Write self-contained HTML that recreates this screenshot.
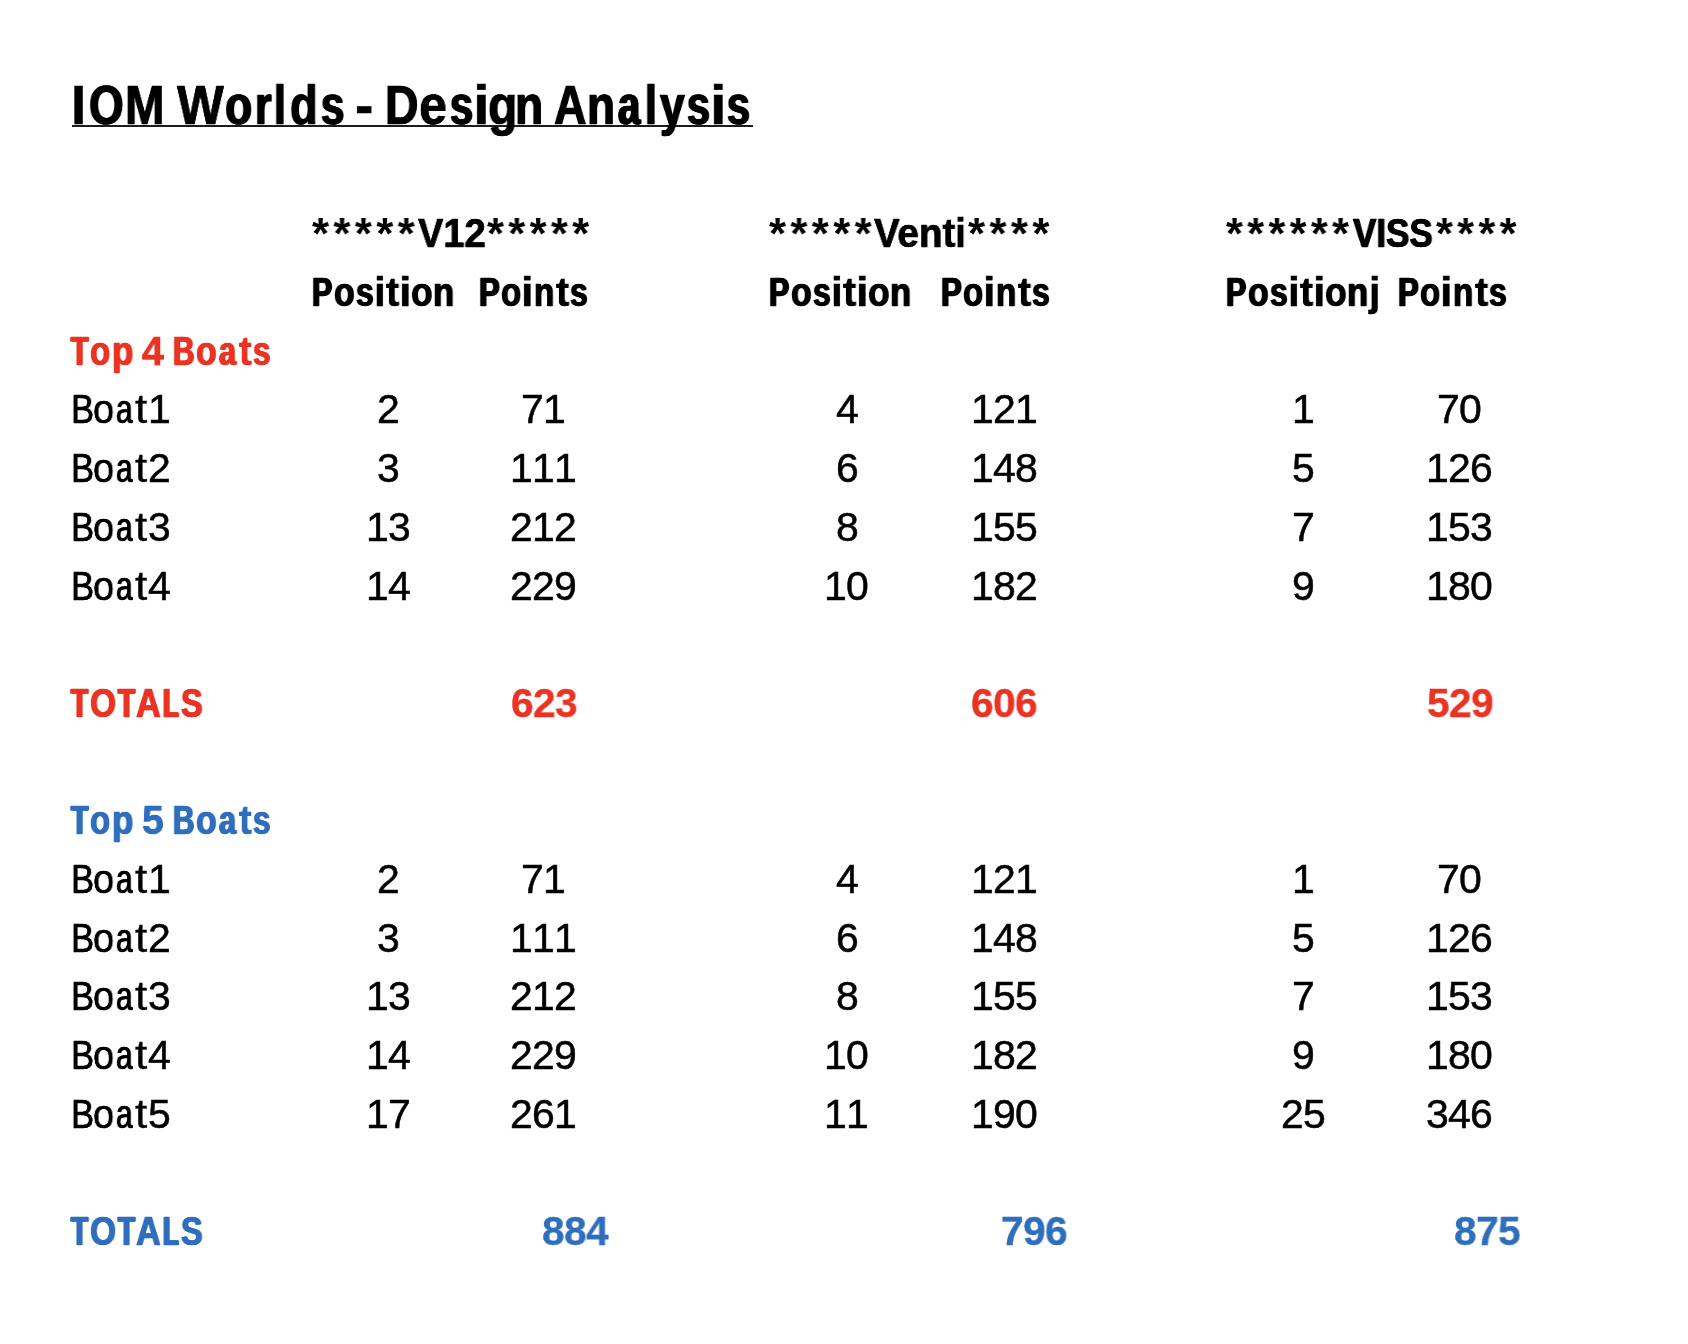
<!DOCTYPE html>
<html><head><meta charset="utf-8"><title>IOM Worlds - Design Analysis</title>
<style>
html,body{margin:0;padding:0;background:#fff}
body{width:1688px;height:1344px;position:relative;overflow:hidden;font-family:'Liberation Sans',sans-serif;color:#000}
.t{position:absolute;white-space:pre;line-height:1;transform-origin:0 0;will-change:transform;-webkit-text-stroke-color:currentColor}
.r{font-weight:400}.b{font-weight:700}.nk{font-kerning:none}
.red{color:#EA3323}.blue{color:#2F6EBD}
.ul{position:absolute;left:71.8px;top:125.2px;width:680.7px;height:1.9px;background:#1c1c1c;will-change:transform}
</style></head>
<body>
<div class="ul"></div>
<div class="t b" style="left:71.18px;top:78.00px;font-size:55.00px;transform:scaleX(0.9912);-webkit-text-stroke-width:0.50px">I</div>
<div class="t b" style="left:88.57px;top:78.00px;font-size:55.00px;transform:scaleX(0.8086);-webkit-text-stroke-width:0.50px;text-shadow:0.89px 0 0 currentColor,-0.89px 0 0 currentColor">O</div>
<div class="t b" style="left:125.17px;top:78.00px;font-size:55.00px;transform:scaleX(0.8602);-webkit-text-stroke-width:0.50px;text-shadow:0.59px 0 0 currentColor,-0.59px 0 0 currentColor">M</div>
<div class="t b" style="left:176.68px;top:78.00px;font-size:55.00px;transform:scaleX(0.9012);-webkit-text-stroke-width:0.50px;text-shadow:0.37px 0 0 currentColor,-0.37px 0 0 currentColor">W</div>
<div class="t b" style="left:225.09px;top:78.00px;font-size:55.00px;transform:scaleX(0.8057);-webkit-text-stroke-width:0.50px;text-shadow:0.91px 0 0 currentColor,-0.91px 0 0 currentColor">o</div>
<div class="t b" style="left:255.49px;top:78.00px;font-size:55.00px;transform:scaleX(0.7781);-webkit-text-stroke-width:0.50px;text-shadow:1.10px 0 0 currentColor,-1.10px 0 0 currentColor">r</div>
<div class="t b" style="left:272.88px;top:78.00px;font-size:55.00px;transform:scaleX(0.9000);-webkit-text-stroke-width:0.50px">l</div>
<div class="t b" style="left:290.29px;top:78.00px;font-size:55.00px;transform:scaleX(0.8212);-webkit-text-stroke-width:0.50px;text-shadow:0.82px 0 0 currentColor,-0.82px 0 0 currentColor">d</div>
<div class="t b" style="left:320.56px;top:78.00px;font-size:55.00px;transform:scaleX(0.7632);-webkit-text-stroke-width:0.50px;text-shadow:1.20px 0 0 currentColor,-1.20px 0 0 currentColor">s</div>
<div class="t b" style="left:354.79px;top:78.00px;font-size:55.00px;transform:scaleX(0.9930);-webkit-text-stroke-width:0.50px">-</div>
<div class="t b" style="left:384.71px;top:78.00px;font-size:55.00px;transform:scaleX(0.8417);-webkit-text-stroke-width:0.50px;text-shadow:0.69px 0 0 currentColor,-0.69px 0 0 currentColor">D</div>
<div class="t b" style="left:419.41px;top:78.00px;font-size:55.00px;transform:scaleX(0.9147);-webkit-text-stroke-width:0.50px;text-shadow:0.30px 0 0 currentColor,-0.30px 0 0 currentColor">e</div>
<div class="t b" style="left:449.72px;top:78.00px;font-size:55.00px;transform:scaleX(0.7524);-webkit-text-stroke-width:0.50px;text-shadow:1.28px 0 0 currentColor,-1.28px 0 0 currentColor">s</div>
<div class="t b" style="left:473.00px;top:78.00px;font-size:55.00px;transform:scaleX(1.0909);-webkit-text-stroke-width:0.50px">i</div>
<div class="t b" style="left:487.55px;top:78.00px;font-size:55.00px;transform:scaleX(0.8766);-webkit-text-stroke-width:0.50px;text-shadow:0.50px 0 0 currentColor,-0.50px 0 0 currentColor">g</div>
<div class="t b" style="left:514.74px;top:78.00px;font-size:55.00px;transform:scaleX(0.8373);-webkit-text-stroke-width:0.50px;text-shadow:0.72px 0 0 currentColor,-0.72px 0 0 currentColor">n</div>
<div class="t b" style="left:553.50px;top:78.00px;font-size:55.00px;transform:scaleX(0.8159);-webkit-text-stroke-width:0.50px;text-shadow:0.85px 0 0 currentColor,-0.85px 0 0 currentColor">A</div>
<div class="t b" style="left:586.88px;top:78.00px;font-size:55.00px;transform:scaleX(0.8320);-webkit-text-stroke-width:0.50px;text-shadow:0.75px 0 0 currentColor,-0.75px 0 0 currentColor">n</div>
<div class="t b" style="left:618.08px;top:78.00px;font-size:55.00px;transform:scaleX(0.7256);-webkit-text-stroke-width:0.50px;text-shadow:1.48px 0 0 currentColor,-1.48px 0 0 currentColor">a</div>
<div class="t b" style="left:643.78px;top:78.00px;font-size:55.00px;transform:scaleX(0.9000);-webkit-text-stroke-width:0.50px">l</div>
<div class="t b" style="left:660.22px;top:78.00px;font-size:55.00px;transform:scaleX(0.8037);-webkit-text-stroke-width:0.50px;text-shadow:0.93px 0 0 currentColor,-0.93px 0 0 currentColor">y</div>
<div class="t b" style="left:686.85px;top:78.00px;font-size:55.00px;transform:scaleX(0.7470);-webkit-text-stroke-width:0.50px;text-shadow:1.32px 0 0 currentColor,-1.32px 0 0 currentColor">s</div>
<div class="t b" style="left:710.14px;top:78.00px;font-size:55.00px;transform:scaleX(1.0784);-webkit-text-stroke-width:0.50px">i</div>
<div class="t b" style="left:726.75px;top:78.00px;font-size:55.00px;transform:scaleX(0.7470);-webkit-text-stroke-width:0.50px;text-shadow:1.32px 0 0 currentColor,-1.32px 0 0 currentColor">s</div>
<div class="t b" style="left:311.78px;top:211.68px;font-size:44.32px;transform:scaleX(0.9852);letter-spacing:4.52px">*****</div>
<div class="t b" style="left:417.61px;top:213.00px;font-size:41.00px;transform:scaleX(0.9279);-webkit-text-stroke-width:0.40px;text-shadow:0.33px 0 0 currentColor,-0.33px 0 0 currentColor">V12</div>
<div class="t b" style="left:486.98px;top:211.68px;font-size:44.32px;transform:scaleX(0.9794);letter-spacing:4.52px">*****</div>
<div class="t b" style="left:768.78px;top:211.68px;font-size:44.32px;transform:scaleX(0.9842);letter-spacing:4.52px">*****</div>
<div class="t b" style="left:874.47px;top:213.00px;font-size:41.00px;transform:scaleX(0.9384);-webkit-text-stroke-width:0.40px;text-shadow:0.29px 0 0 currentColor,-0.29px 0 0 currentColor">Venti</div>
<div class="t b" style="left:967.78px;top:211.68px;font-size:44.32px;transform:scaleX(0.9864);letter-spacing:4.52px">****</div>
<div class="t b" style="left:1226.48px;top:211.68px;font-size:44.32px;transform:scaleX(0.9757);letter-spacing:4.52px">******</div>
<div class="t b" style="left:1352.74px;top:213.00px;font-size:41.00px;transform:scaleX(0.8530);-webkit-text-stroke-width:0.40px;text-shadow:0.64px 0 0 currentColor,-0.64px 0 0 currentColor">VISS</div>
<div class="t b" style="left:1436.28px;top:211.68px;font-size:44.32px;transform:scaleX(0.9754);letter-spacing:4.52px">****</div>
<div class="t b nk" style="left:311.60px;top:272.00px;font-size:41.00px;transform:scaleX(0.7371);-webkit-text-stroke-width:0.40px;text-shadow:1.24px 0 0 currentColor,-1.24px 0 0 currentColor">P</div>
<div class="t b nk" style="left:333.56px;top:272.00px;font-size:41.00px;transform:scaleX(0.8230);-webkit-text-stroke-width:0.40px;text-shadow:0.78px 0 0 currentColor,-0.78px 0 0 currentColor">o</div>
<div class="t b nk" style="left:355.82px;top:272.00px;font-size:41.00px;transform:scaleX(0.7785);-webkit-text-stroke-width:0.40px;text-shadow:1.00px 0 0 currentColor,-1.00px 0 0 currentColor">s</div>
<div class="t b nk" style="left:374.22px;top:272.00px;font-size:41.00px;transform:scaleX(1.0429);-webkit-text-stroke-width:0.40px">i</div>
<div class="t b nk" style="left:385.61px;top:272.00px;font-size:41.00px;transform:scaleX(0.9594);-webkit-text-stroke-width:0.40px;text-shadow:0.22px 0 0 currentColor,-0.22px 0 0 currentColor">t</div>
<div class="t b nk" style="left:398.69px;top:272.00px;font-size:41.00px;transform:scaleX(1.0934);-webkit-text-stroke-width:0.40px">i</div>
<div class="t b nk" style="left:410.98px;top:272.00px;font-size:41.00px;transform:scaleX(0.8610);-webkit-text-stroke-width:0.40px;text-shadow:0.60px 0 0 currentColor,-0.60px 0 0 currentColor">o</div>
<div class="t b nk" style="left:433.29px;top:272.00px;font-size:41.00px;transform:scaleX(0.8459);-webkit-text-stroke-width:0.40px;text-shadow:0.67px 0 0 currentColor,-0.67px 0 0 currentColor">n</div>
<div class="t b nk" style="left:768.60px;top:272.00px;font-size:41.00px;transform:scaleX(0.7371);-webkit-text-stroke-width:0.40px;text-shadow:1.24px 0 0 currentColor,-1.24px 0 0 currentColor">P</div>
<div class="t b nk" style="left:790.56px;top:272.00px;font-size:41.00px;transform:scaleX(0.8230);-webkit-text-stroke-width:0.40px;text-shadow:0.78px 0 0 currentColor,-0.78px 0 0 currentColor">o</div>
<div class="t b nk" style="left:812.82px;top:272.00px;font-size:41.00px;transform:scaleX(0.7785);-webkit-text-stroke-width:0.40px;text-shadow:1.00px 0 0 currentColor,-1.00px 0 0 currentColor">s</div>
<div class="t b nk" style="left:831.22px;top:272.00px;font-size:41.00px;transform:scaleX(1.0429);-webkit-text-stroke-width:0.40px">i</div>
<div class="t b nk" style="left:842.61px;top:272.00px;font-size:41.00px;transform:scaleX(0.9594);-webkit-text-stroke-width:0.40px;text-shadow:0.22px 0 0 currentColor,-0.22px 0 0 currentColor">t</div>
<div class="t b nk" style="left:855.69px;top:272.00px;font-size:41.00px;transform:scaleX(1.0934);-webkit-text-stroke-width:0.40px">i</div>
<div class="t b nk" style="left:867.98px;top:272.00px;font-size:41.00px;transform:scaleX(0.8610);-webkit-text-stroke-width:0.40px;text-shadow:0.60px 0 0 currentColor,-0.60px 0 0 currentColor">o</div>
<div class="t b nk" style="left:890.29px;top:272.00px;font-size:41.00px;transform:scaleX(0.8459);-webkit-text-stroke-width:0.40px;text-shadow:0.67px 0 0 currentColor,-0.67px 0 0 currentColor">n</div>
<div class="t b nk" style="left:1225.80px;top:272.00px;font-size:41.00px;transform:scaleX(0.7371);-webkit-text-stroke-width:0.40px;text-shadow:1.24px 0 0 currentColor,-1.24px 0 0 currentColor">P</div>
<div class="t b nk" style="left:1247.76px;top:272.00px;font-size:41.00px;transform:scaleX(0.8230);-webkit-text-stroke-width:0.40px;text-shadow:0.78px 0 0 currentColor,-0.78px 0 0 currentColor">o</div>
<div class="t b nk" style="left:1270.02px;top:272.00px;font-size:41.00px;transform:scaleX(0.7785);-webkit-text-stroke-width:0.40px;text-shadow:1.00px 0 0 currentColor,-1.00px 0 0 currentColor">s</div>
<div class="t b nk" style="left:1288.42px;top:272.00px;font-size:41.00px;transform:scaleX(1.0429);-webkit-text-stroke-width:0.40px">i</div>
<div class="t b nk" style="left:1299.81px;top:272.00px;font-size:41.00px;transform:scaleX(0.9594);-webkit-text-stroke-width:0.40px;text-shadow:0.22px 0 0 currentColor,-0.22px 0 0 currentColor">t</div>
<div class="t b nk" style="left:1312.89px;top:272.00px;font-size:41.00px;transform:scaleX(1.0934);-webkit-text-stroke-width:0.40px">i</div>
<div class="t b nk" style="left:1325.18px;top:272.00px;font-size:41.00px;transform:scaleX(0.8610);-webkit-text-stroke-width:0.40px;text-shadow:0.60px 0 0 currentColor,-0.60px 0 0 currentColor">o</div>
<div class="t b nk" style="left:1347.49px;top:272.00px;font-size:41.00px;transform:scaleX(0.8459);-webkit-text-stroke-width:0.40px;text-shadow:0.67px 0 0 currentColor,-0.67px 0 0 currentColor">n</div>
<div class="t b nk" style="left:1369.13px;top:272.00px;font-size:41.00px;transform:scaleX(1.0074);-webkit-text-stroke-width:0.40px">j</div>
<div class="t b nk" style="left:478.70px;top:272.00px;font-size:41.00px;transform:scaleX(0.7545);-webkit-text-stroke-width:0.40px;text-shadow:1.13px 0 0 currentColor,-1.13px 0 0 currentColor">P</div>
<div class="t b nk" style="left:500.95px;top:272.00px;font-size:41.00px;transform:scaleX(0.8041);-webkit-text-stroke-width:0.40px;text-shadow:0.87px 0 0 currentColor,-0.87px 0 0 currentColor">o</div>
<div class="t b nk" style="left:521.19px;top:272.00px;font-size:41.00px;transform:scaleX(1.0934);-webkit-text-stroke-width:0.40px">i</div>
<div class="t b nk" style="left:534.09px;top:272.00px;font-size:41.00px;transform:scaleX(0.8100);-webkit-text-stroke-width:0.40px;text-shadow:0.84px 0 0 currentColor,-0.84px 0 0 currentColor">n</div>
<div class="t b nk" style="left:556.11px;top:272.00px;font-size:41.00px;transform:scaleX(0.9594);-webkit-text-stroke-width:0.40px;text-shadow:0.22px 0 0 currentColor,-0.22px 0 0 currentColor">t</div>
<div class="t b nk" style="left:570.12px;top:272.00px;font-size:41.00px;transform:scaleX(0.7785);-webkit-text-stroke-width:0.40px;text-shadow:1.00px 0 0 currentColor,-1.00px 0 0 currentColor">s</div>
<div class="t b nk" style="left:940.50px;top:272.00px;font-size:41.00px;transform:scaleX(0.7545);-webkit-text-stroke-width:0.40px;text-shadow:1.13px 0 0 currentColor,-1.13px 0 0 currentColor">P</div>
<div class="t b nk" style="left:962.75px;top:272.00px;font-size:41.00px;transform:scaleX(0.8041);-webkit-text-stroke-width:0.40px;text-shadow:0.87px 0 0 currentColor,-0.87px 0 0 currentColor">o</div>
<div class="t b nk" style="left:982.99px;top:272.00px;font-size:41.00px;transform:scaleX(1.0934);-webkit-text-stroke-width:0.40px">i</div>
<div class="t b nk" style="left:995.89px;top:272.00px;font-size:41.00px;transform:scaleX(0.8100);-webkit-text-stroke-width:0.40px;text-shadow:0.84px 0 0 currentColor,-0.84px 0 0 currentColor">n</div>
<div class="t b nk" style="left:1017.91px;top:272.00px;font-size:41.00px;transform:scaleX(0.9594);-webkit-text-stroke-width:0.40px;text-shadow:0.21px 0 0 currentColor,-0.21px 0 0 currentColor">t</div>
<div class="t b nk" style="left:1031.92px;top:272.00px;font-size:41.00px;transform:scaleX(0.7785);-webkit-text-stroke-width:0.40px;text-shadow:1.00px 0 0 currentColor,-1.00px 0 0 currentColor">s</div>
<div class="t b nk" style="left:1397.60px;top:272.00px;font-size:41.00px;transform:scaleX(0.7545);-webkit-text-stroke-width:0.40px;text-shadow:1.13px 0 0 currentColor,-1.13px 0 0 currentColor">P</div>
<div class="t b nk" style="left:1419.85px;top:272.00px;font-size:41.00px;transform:scaleX(0.8041);-webkit-text-stroke-width:0.40px;text-shadow:0.87px 0 0 currentColor,-0.87px 0 0 currentColor">o</div>
<div class="t b nk" style="left:1440.09px;top:272.00px;font-size:41.00px;transform:scaleX(1.0934);-webkit-text-stroke-width:0.40px">i</div>
<div class="t b nk" style="left:1452.99px;top:272.00px;font-size:41.00px;transform:scaleX(0.8100);-webkit-text-stroke-width:0.40px;text-shadow:0.84px 0 0 currentColor,-0.84px 0 0 currentColor">n</div>
<div class="t b nk" style="left:1475.01px;top:272.00px;font-size:41.00px;transform:scaleX(0.9594);-webkit-text-stroke-width:0.40px;text-shadow:0.22px 0 0 currentColor,-0.22px 0 0 currentColor">t</div>
<div class="t b nk" style="left:1489.02px;top:272.00px;font-size:41.00px;transform:scaleX(0.7785);-webkit-text-stroke-width:0.40px;text-shadow:1.00px 0 0 currentColor,-1.00px 0 0 currentColor">s</div>
<div class="t b red nk" style="left:70.94px;top:331.00px;font-size:41.00px;transform:scaleX(0.6847);-webkit-text-stroke-width:0.40px;text-shadow:1.57px 0 0 currentColor,-1.57px 0 0 currentColor">T</div>
<div class="t b red nk" style="left:90.05px;top:331.00px;font-size:41.00px;transform:scaleX(0.8041);-webkit-text-stroke-width:0.40px;text-shadow:0.87px 0 0 currentColor,-0.87px 0 0 currentColor">o</div>
<div class="t b red nk" style="left:111.65px;top:331.00px;font-size:41.00px;transform:scaleX(0.8531);-webkit-text-stroke-width:0.40px;text-shadow:0.64px 0 0 currentColor,-0.64px 0 0 currentColor">p</div>
<div class="t b red nk" style="left:172.78px;top:331.00px;font-size:41.00px;transform:scaleX(0.7235);-webkit-text-stroke-width:0.40px;text-shadow:1.32px 0 0 currentColor,-1.32px 0 0 currentColor">B</div>
<div class="t b red nk" style="left:195.86px;top:331.00px;font-size:41.00px;transform:scaleX(0.8230);-webkit-text-stroke-width:0.40px;text-shadow:0.78px 0 0 currentColor,-0.78px 0 0 currentColor">o</div>
<div class="t b red nk" style="left:218.54px;top:331.00px;font-size:41.00px;transform:scaleX(0.7407);-webkit-text-stroke-width:0.40px;text-shadow:1.22px 0 0 currentColor,-1.22px 0 0 currentColor">a</div>
<div class="t b red nk" style="left:239.21px;top:331.00px;font-size:41.00px;transform:scaleX(0.9299);-webkit-text-stroke-width:0.40px;text-shadow:0.32px 0 0 currentColor,-0.32px 0 0 currentColor">t</div>
<div class="t b red nk" style="left:253.09px;top:331.00px;font-size:41.00px;transform:scaleX(0.7639);-webkit-text-stroke-width:0.40px;text-shadow:1.08px 0 0 currentColor,-1.08px 0 0 currentColor">s</div>
<div class="t b red nk" style="left:141.62px;top:331.00px;font-size:41.00px;transform:scaleX(0.9562);-webkit-text-stroke-width:0.40px;text-shadow:0.23px 0 0 currentColor,-0.23px 0 0 currentColor">4</div>
<div class="t b red nk" style="left:70.96px;top:683.00px;font-size:41.00px;transform:scaleX(0.6793);-webkit-text-stroke-width:0.40px;text-shadow:1.61px 0 0 currentColor,-1.61px 0 0 currentColor">T</div>
<div class="t b red nk" style="left:90.19px;top:683.00px;font-size:41.00px;transform:scaleX(0.8156);-webkit-text-stroke-width:0.40px;text-shadow:0.81px 0 0 currentColor,-0.81px 0 0 currentColor">O</div>
<div class="t b red nk" style="left:118.06px;top:683.00px;font-size:41.00px;transform:scaleX(0.6793);-webkit-text-stroke-width:0.40px;text-shadow:1.61px 0 0 currentColor,-1.61px 0 0 currentColor">T</div>
<div class="t b red nk" style="left:135.61px;top:683.00px;font-size:41.00px;transform:scaleX(0.8358);-webkit-text-stroke-width:0.40px;text-shadow:0.72px 0 0 currentColor,-0.72px 0 0 currentColor">A</div>
<div class="t b red nk" style="left:162.83px;top:683.00px;font-size:41.00px;transform:scaleX(0.6258);-webkit-text-stroke-width:0.40px;text-shadow:2.02px 0 0 currentColor,-2.02px 0 0 currentColor">L</div>
<div class="t b red nk" style="left:180.84px;top:683.00px;font-size:41.00px;transform:scaleX(0.7876);-webkit-text-stroke-width:0.40px;text-shadow:0.95px 0 0 currentColor,-0.95px 0 0 currentColor">S</div>
<div class="t b blue nk" style="left:70.94px;top:800.00px;font-size:41.00px;transform:scaleX(0.6847);-webkit-text-stroke-width:0.40px;text-shadow:1.57px 0 0 currentColor,-1.57px 0 0 currentColor">T</div>
<div class="t b blue nk" style="left:90.05px;top:800.00px;font-size:41.00px;transform:scaleX(0.8041);-webkit-text-stroke-width:0.40px;text-shadow:0.87px 0 0 currentColor,-0.87px 0 0 currentColor">o</div>
<div class="t b blue nk" style="left:111.65px;top:800.00px;font-size:41.00px;transform:scaleX(0.8531);-webkit-text-stroke-width:0.40px;text-shadow:0.64px 0 0 currentColor,-0.64px 0 0 currentColor">p</div>
<div class="t b blue nk" style="left:172.78px;top:800.00px;font-size:41.00px;transform:scaleX(0.7235);-webkit-text-stroke-width:0.40px;text-shadow:1.32px 0 0 currentColor,-1.32px 0 0 currentColor">B</div>
<div class="t b blue nk" style="left:195.86px;top:800.00px;font-size:41.00px;transform:scaleX(0.8230);-webkit-text-stroke-width:0.40px;text-shadow:0.78px 0 0 currentColor,-0.78px 0 0 currentColor">o</div>
<div class="t b blue nk" style="left:218.54px;top:800.00px;font-size:41.00px;transform:scaleX(0.7407);-webkit-text-stroke-width:0.40px;text-shadow:1.22px 0 0 currentColor,-1.22px 0 0 currentColor">a</div>
<div class="t b blue nk" style="left:239.21px;top:800.00px;font-size:41.00px;transform:scaleX(0.9299);-webkit-text-stroke-width:0.40px;text-shadow:0.32px 0 0 currentColor,-0.32px 0 0 currentColor">t</div>
<div class="t b blue nk" style="left:253.09px;top:800.00px;font-size:41.00px;transform:scaleX(0.7639);-webkit-text-stroke-width:0.40px;text-shadow:1.08px 0 0 currentColor,-1.08px 0 0 currentColor">s</div>
<div class="t b blue nk" style="left:141.98px;top:800.00px;font-size:41.00px;transform:scaleX(0.9578);-webkit-text-stroke-width:0.40px;text-shadow:0.22px 0 0 currentColor,-0.22px 0 0 currentColor">5</div>
<div class="t b blue nk" style="left:70.96px;top:1211.00px;font-size:41.00px;transform:scaleX(0.6793);-webkit-text-stroke-width:0.40px;text-shadow:1.61px 0 0 currentColor,-1.61px 0 0 currentColor">T</div>
<div class="t b blue nk" style="left:90.19px;top:1211.00px;font-size:41.00px;transform:scaleX(0.8156);-webkit-text-stroke-width:0.40px;text-shadow:0.81px 0 0 currentColor,-0.81px 0 0 currentColor">O</div>
<div class="t b blue nk" style="left:118.06px;top:1211.00px;font-size:41.00px;transform:scaleX(0.6793);-webkit-text-stroke-width:0.40px;text-shadow:1.61px 0 0 currentColor,-1.61px 0 0 currentColor">T</div>
<div class="t b blue nk" style="left:135.61px;top:1211.00px;font-size:41.00px;transform:scaleX(0.8358);-webkit-text-stroke-width:0.40px;text-shadow:0.72px 0 0 currentColor,-0.72px 0 0 currentColor">A</div>
<div class="t b blue nk" style="left:162.83px;top:1211.00px;font-size:41.00px;transform:scaleX(0.6258);-webkit-text-stroke-width:0.40px;text-shadow:2.02px 0 0 currentColor,-2.02px 0 0 currentColor">L</div>
<div class="t b blue nk" style="left:180.84px;top:1211.00px;font-size:41.00px;transform:scaleX(0.7876);-webkit-text-stroke-width:0.40px;text-shadow:0.95px 0 0 currentColor,-0.95px 0 0 currentColor">S</div>
<div class="t r nk" style="left:70.66px;top:389.00px;font-size:41.00px;transform:scaleX(0.8415);-webkit-text-stroke-width:0.40px;text-shadow:0.29px 0 0 currentColor,-0.29px 0 0 currentColor">B</div>
<div class="t r nk" style="left:93.46px;top:389.00px;font-size:41.00px;transform:scaleX(0.9223);-webkit-text-stroke-width:0.40px;text-shadow:0.09px 0 0 currentColor,-0.09px 0 0 currentColor">o</div>
<div class="t r nk" style="left:115.99px;top:389.00px;font-size:41.00px;transform:scaleX(0.7286);-webkit-text-stroke-width:0.40px;text-shadow:0.66px 0 0 currentColor,-0.66px 0 0 currentColor">a</div>
<div class="t r nk" style="left:134.81px;top:389.00px;font-size:41.00px;transform:scaleX(1.0723);-webkit-text-stroke-width:0.40px">t</div>
<div class="t r nk" style="left:147.50px;top:390.00px;font-size:40.20px;transform:scaleX(1.0200);letter-spacing:-0.74px;-webkit-text-stroke-width:0.50px">1</div>
<div class="t r nk" style="left:70.66px;top:448.00px;font-size:41.00px;transform:scaleX(0.8415);-webkit-text-stroke-width:0.40px;text-shadow:0.29px 0 0 currentColor,-0.29px 0 0 currentColor">B</div>
<div class="t r nk" style="left:93.46px;top:448.00px;font-size:41.00px;transform:scaleX(0.9223);-webkit-text-stroke-width:0.40px;text-shadow:0.09px 0 0 currentColor,-0.09px 0 0 currentColor">o</div>
<div class="t r nk" style="left:115.99px;top:448.00px;font-size:41.00px;transform:scaleX(0.7286);-webkit-text-stroke-width:0.40px;text-shadow:0.66px 0 0 currentColor,-0.66px 0 0 currentColor">a</div>
<div class="t r nk" style="left:134.81px;top:448.00px;font-size:41.00px;transform:scaleX(1.0723);-webkit-text-stroke-width:0.40px">t</div>
<div class="t r nk" style="left:147.50px;top:449.00px;font-size:40.20px;transform:scaleX(1.0200);letter-spacing:-0.74px;-webkit-text-stroke-width:0.50px">2</div>
<div class="t r nk" style="left:70.66px;top:507.00px;font-size:41.00px;transform:scaleX(0.8415);-webkit-text-stroke-width:0.40px;text-shadow:0.29px 0 0 currentColor,-0.29px 0 0 currentColor">B</div>
<div class="t r nk" style="left:93.46px;top:507.00px;font-size:41.00px;transform:scaleX(0.9223);-webkit-text-stroke-width:0.40px;text-shadow:0.09px 0 0 currentColor,-0.09px 0 0 currentColor">o</div>
<div class="t r nk" style="left:115.99px;top:507.00px;font-size:41.00px;transform:scaleX(0.7286);-webkit-text-stroke-width:0.40px;text-shadow:0.66px 0 0 currentColor,-0.66px 0 0 currentColor">a</div>
<div class="t r nk" style="left:134.81px;top:507.00px;font-size:41.00px;transform:scaleX(1.0723);-webkit-text-stroke-width:0.40px">t</div>
<div class="t r nk" style="left:147.50px;top:508.00px;font-size:40.20px;transform:scaleX(1.0200);letter-spacing:-0.74px;-webkit-text-stroke-width:0.50px">3</div>
<div class="t r nk" style="left:70.66px;top:566.00px;font-size:41.00px;transform:scaleX(0.8415);-webkit-text-stroke-width:0.40px;text-shadow:0.29px 0 0 currentColor,-0.29px 0 0 currentColor">B</div>
<div class="t r nk" style="left:93.46px;top:566.00px;font-size:41.00px;transform:scaleX(0.9223);-webkit-text-stroke-width:0.40px;text-shadow:0.09px 0 0 currentColor,-0.09px 0 0 currentColor">o</div>
<div class="t r nk" style="left:115.99px;top:566.00px;font-size:41.00px;transform:scaleX(0.7286);-webkit-text-stroke-width:0.40px;text-shadow:0.66px 0 0 currentColor,-0.66px 0 0 currentColor">a</div>
<div class="t r nk" style="left:134.81px;top:566.00px;font-size:41.00px;transform:scaleX(1.0723);-webkit-text-stroke-width:0.40px">t</div>
<div class="t r nk" style="left:147.50px;top:567.00px;font-size:40.20px;transform:scaleX(1.0200);letter-spacing:-0.74px;-webkit-text-stroke-width:0.50px">4</div>
<div class="t r nk" style="left:70.66px;top:859.00px;font-size:41.00px;transform:scaleX(0.8415);-webkit-text-stroke-width:0.40px;text-shadow:0.29px 0 0 currentColor,-0.29px 0 0 currentColor">B</div>
<div class="t r nk" style="left:93.46px;top:859.00px;font-size:41.00px;transform:scaleX(0.9223);-webkit-text-stroke-width:0.40px;text-shadow:0.09px 0 0 currentColor,-0.09px 0 0 currentColor">o</div>
<div class="t r nk" style="left:115.99px;top:859.00px;font-size:41.00px;transform:scaleX(0.7286);-webkit-text-stroke-width:0.40px;text-shadow:0.66px 0 0 currentColor,-0.66px 0 0 currentColor">a</div>
<div class="t r nk" style="left:134.81px;top:859.00px;font-size:41.00px;transform:scaleX(1.0723);-webkit-text-stroke-width:0.40px">t</div>
<div class="t r nk" style="left:147.50px;top:860.00px;font-size:40.20px;transform:scaleX(1.0200);letter-spacing:-0.74px;-webkit-text-stroke-width:0.50px">1</div>
<div class="t r nk" style="left:70.66px;top:918.00px;font-size:41.00px;transform:scaleX(0.8415);-webkit-text-stroke-width:0.40px;text-shadow:0.29px 0 0 currentColor,-0.29px 0 0 currentColor">B</div>
<div class="t r nk" style="left:93.46px;top:918.00px;font-size:41.00px;transform:scaleX(0.9223);-webkit-text-stroke-width:0.40px;text-shadow:0.09px 0 0 currentColor,-0.09px 0 0 currentColor">o</div>
<div class="t r nk" style="left:115.99px;top:918.00px;font-size:41.00px;transform:scaleX(0.7286);-webkit-text-stroke-width:0.40px;text-shadow:0.66px 0 0 currentColor,-0.66px 0 0 currentColor">a</div>
<div class="t r nk" style="left:134.81px;top:918.00px;font-size:41.00px;transform:scaleX(1.0723);-webkit-text-stroke-width:0.40px">t</div>
<div class="t r nk" style="left:147.50px;top:919.00px;font-size:40.20px;transform:scaleX(1.0200);letter-spacing:-0.74px;-webkit-text-stroke-width:0.50px">2</div>
<div class="t r nk" style="left:70.66px;top:976.00px;font-size:41.00px;transform:scaleX(0.8415);-webkit-text-stroke-width:0.40px;text-shadow:0.29px 0 0 currentColor,-0.29px 0 0 currentColor">B</div>
<div class="t r nk" style="left:93.46px;top:976.00px;font-size:41.00px;transform:scaleX(0.9223);-webkit-text-stroke-width:0.40px;text-shadow:0.09px 0 0 currentColor,-0.09px 0 0 currentColor">o</div>
<div class="t r nk" style="left:115.99px;top:976.00px;font-size:41.00px;transform:scaleX(0.7286);-webkit-text-stroke-width:0.40px;text-shadow:0.66px 0 0 currentColor,-0.66px 0 0 currentColor">a</div>
<div class="t r nk" style="left:134.81px;top:976.00px;font-size:41.00px;transform:scaleX(1.0723);-webkit-text-stroke-width:0.40px">t</div>
<div class="t r nk" style="left:147.50px;top:977.00px;font-size:40.20px;transform:scaleX(1.0200);letter-spacing:-0.74px;-webkit-text-stroke-width:0.50px">3</div>
<div class="t r nk" style="left:70.66px;top:1035.00px;font-size:41.00px;transform:scaleX(0.8415);-webkit-text-stroke-width:0.40px;text-shadow:0.29px 0 0 currentColor,-0.29px 0 0 currentColor">B</div>
<div class="t r nk" style="left:93.46px;top:1035.00px;font-size:41.00px;transform:scaleX(0.9223);-webkit-text-stroke-width:0.40px;text-shadow:0.09px 0 0 currentColor,-0.09px 0 0 currentColor">o</div>
<div class="t r nk" style="left:115.99px;top:1035.00px;font-size:41.00px;transform:scaleX(0.7286);-webkit-text-stroke-width:0.40px;text-shadow:0.66px 0 0 currentColor,-0.66px 0 0 currentColor">a</div>
<div class="t r nk" style="left:134.81px;top:1035.00px;font-size:41.00px;transform:scaleX(1.0723);-webkit-text-stroke-width:0.40px">t</div>
<div class="t r nk" style="left:147.50px;top:1036.00px;font-size:40.20px;transform:scaleX(1.0200);letter-spacing:-0.74px;-webkit-text-stroke-width:0.50px">4</div>
<div class="t r nk" style="left:70.66px;top:1094.00px;font-size:41.00px;transform:scaleX(0.8415);-webkit-text-stroke-width:0.40px;text-shadow:0.29px 0 0 currentColor,-0.29px 0 0 currentColor">B</div>
<div class="t r nk" style="left:93.46px;top:1094.00px;font-size:41.00px;transform:scaleX(0.9223);-webkit-text-stroke-width:0.40px;text-shadow:0.09px 0 0 currentColor,-0.09px 0 0 currentColor">o</div>
<div class="t r nk" style="left:115.99px;top:1094.00px;font-size:41.00px;transform:scaleX(0.7286);-webkit-text-stroke-width:0.40px;text-shadow:0.66px 0 0 currentColor,-0.66px 0 0 currentColor">a</div>
<div class="t r nk" style="left:134.81px;top:1094.00px;font-size:41.00px;transform:scaleX(1.0723);-webkit-text-stroke-width:0.40px">t</div>
<div class="t r nk" style="left:147.50px;top:1095.00px;font-size:40.20px;transform:scaleX(1.0200);letter-spacing:-0.74px;-webkit-text-stroke-width:0.50px">5</div>
<div class="t r nk" style="left:376.60px;top:390.00px;font-size:40.20px;transform:scaleX(1.0200);letter-spacing:-0.74px;-webkit-text-stroke-width:0.50px">2</div>
<div class="t r nk" style="left:376.60px;top:449.00px;font-size:40.20px;transform:scaleX(1.0200);letter-spacing:-0.74px;-webkit-text-stroke-width:0.50px">3</div>
<div class="t r nk" style="left:365.57px;top:508.00px;font-size:40.20px;transform:scaleX(1.0200);letter-spacing:-0.74px;-webkit-text-stroke-width:0.50px">13</div>
<div class="t r nk" style="left:365.57px;top:567.00px;font-size:40.20px;transform:scaleX(1.0200);letter-spacing:-0.74px;-webkit-text-stroke-width:0.50px">14</div>
<div class="t r nk" style="left:376.60px;top:860.00px;font-size:40.20px;transform:scaleX(1.0200);letter-spacing:-0.74px;-webkit-text-stroke-width:0.50px">2</div>
<div class="t r nk" style="left:376.60px;top:919.00px;font-size:40.20px;transform:scaleX(1.0200);letter-spacing:-0.74px;-webkit-text-stroke-width:0.50px">3</div>
<div class="t r nk" style="left:365.57px;top:977.00px;font-size:40.20px;transform:scaleX(1.0200);letter-spacing:-0.74px;-webkit-text-stroke-width:0.50px">13</div>
<div class="t r nk" style="left:365.57px;top:1036.00px;font-size:40.20px;transform:scaleX(1.0200);letter-spacing:-0.74px;-webkit-text-stroke-width:0.50px">14</div>
<div class="t r nk" style="left:365.57px;top:1095.00px;font-size:40.20px;transform:scaleX(1.0200);letter-spacing:-0.74px;-webkit-text-stroke-width:0.50px">17</div>
<div class="t r nk" style="left:521.47px;top:390.00px;font-size:40.20px;transform:scaleX(1.0200);letter-spacing:-0.74px;-webkit-text-stroke-width:0.50px">71</div>
<div class="t r nk" style="left:510.45px;top:449.00px;font-size:40.20px;transform:scaleX(1.0200);letter-spacing:-0.74px;-webkit-text-stroke-width:0.50px">111</div>
<div class="t r nk" style="left:510.45px;top:508.00px;font-size:40.20px;transform:scaleX(1.0200);letter-spacing:-0.74px;-webkit-text-stroke-width:0.50px">212</div>
<div class="t r nk" style="left:510.45px;top:567.00px;font-size:40.20px;transform:scaleX(1.0200);letter-spacing:-0.74px;-webkit-text-stroke-width:0.50px">229</div>
<div class="t r nk" style="left:521.47px;top:860.00px;font-size:40.20px;transform:scaleX(1.0200);letter-spacing:-0.74px;-webkit-text-stroke-width:0.50px">71</div>
<div class="t r nk" style="left:510.45px;top:919.00px;font-size:40.20px;transform:scaleX(1.0200);letter-spacing:-0.74px;-webkit-text-stroke-width:0.50px">111</div>
<div class="t r nk" style="left:510.45px;top:977.00px;font-size:40.20px;transform:scaleX(1.0200);letter-spacing:-0.74px;-webkit-text-stroke-width:0.50px">212</div>
<div class="t r nk" style="left:510.45px;top:1036.00px;font-size:40.20px;transform:scaleX(1.0200);letter-spacing:-0.74px;-webkit-text-stroke-width:0.50px">229</div>
<div class="t r nk" style="left:510.45px;top:1095.00px;font-size:40.20px;transform:scaleX(1.0200);letter-spacing:-0.74px;-webkit-text-stroke-width:0.50px">261</div>
<div class="t r nk" style="left:835.50px;top:390.00px;font-size:40.20px;transform:scaleX(1.0200);letter-spacing:-0.74px;-webkit-text-stroke-width:0.50px">4</div>
<div class="t r nk" style="left:835.50px;top:449.00px;font-size:40.20px;transform:scaleX(1.0200);letter-spacing:-0.74px;-webkit-text-stroke-width:0.50px">6</div>
<div class="t r nk" style="left:835.50px;top:508.00px;font-size:40.20px;transform:scaleX(1.0200);letter-spacing:-0.74px;-webkit-text-stroke-width:0.50px">8</div>
<div class="t r nk" style="left:824.47px;top:567.00px;font-size:40.20px;transform:scaleX(1.0200);letter-spacing:-0.74px;-webkit-text-stroke-width:0.50px">10</div>
<div class="t r nk" style="left:835.50px;top:860.00px;font-size:40.20px;transform:scaleX(1.0200);letter-spacing:-0.74px;-webkit-text-stroke-width:0.50px">4</div>
<div class="t r nk" style="left:835.50px;top:919.00px;font-size:40.20px;transform:scaleX(1.0200);letter-spacing:-0.74px;-webkit-text-stroke-width:0.50px">6</div>
<div class="t r nk" style="left:835.50px;top:977.00px;font-size:40.20px;transform:scaleX(1.0200);letter-spacing:-0.74px;-webkit-text-stroke-width:0.50px">8</div>
<div class="t r nk" style="left:824.47px;top:1036.00px;font-size:40.20px;transform:scaleX(1.0200);letter-spacing:-0.74px;-webkit-text-stroke-width:0.50px">10</div>
<div class="t r nk" style="left:824.47px;top:1095.00px;font-size:40.20px;transform:scaleX(1.0200);letter-spacing:-0.74px;-webkit-text-stroke-width:0.50px">11</div>
<div class="t r nk" style="left:970.75px;top:390.00px;font-size:40.20px;transform:scaleX(1.0200);letter-spacing:-0.74px;-webkit-text-stroke-width:0.50px">121</div>
<div class="t r nk" style="left:970.75px;top:449.00px;font-size:40.20px;transform:scaleX(1.0200);letter-spacing:-0.74px;-webkit-text-stroke-width:0.50px">148</div>
<div class="t r nk" style="left:970.75px;top:508.00px;font-size:40.20px;transform:scaleX(1.0200);letter-spacing:-0.74px;-webkit-text-stroke-width:0.50px">155</div>
<div class="t r nk" style="left:970.75px;top:567.00px;font-size:40.20px;transform:scaleX(1.0200);letter-spacing:-0.74px;-webkit-text-stroke-width:0.50px">182</div>
<div class="t r nk" style="left:970.75px;top:860.00px;font-size:40.20px;transform:scaleX(1.0200);letter-spacing:-0.74px;-webkit-text-stroke-width:0.50px">121</div>
<div class="t r nk" style="left:970.75px;top:919.00px;font-size:40.20px;transform:scaleX(1.0200);letter-spacing:-0.74px;-webkit-text-stroke-width:0.50px">148</div>
<div class="t r nk" style="left:970.75px;top:977.00px;font-size:40.20px;transform:scaleX(1.0200);letter-spacing:-0.74px;-webkit-text-stroke-width:0.50px">155</div>
<div class="t r nk" style="left:970.75px;top:1036.00px;font-size:40.20px;transform:scaleX(1.0200);letter-spacing:-0.74px;-webkit-text-stroke-width:0.50px">182</div>
<div class="t r nk" style="left:970.75px;top:1095.00px;font-size:40.20px;transform:scaleX(1.0200);letter-spacing:-0.74px;-webkit-text-stroke-width:0.50px">190</div>
<div class="t r nk" style="left:1292.30px;top:390.00px;font-size:40.20px;transform:scaleX(1.0200);letter-spacing:-0.74px;-webkit-text-stroke-width:0.50px">1</div>
<div class="t r nk" style="left:1292.30px;top:449.00px;font-size:40.20px;transform:scaleX(1.0200);letter-spacing:-0.74px;-webkit-text-stroke-width:0.50px">5</div>
<div class="t r nk" style="left:1292.30px;top:508.00px;font-size:40.20px;transform:scaleX(1.0200);letter-spacing:-0.74px;-webkit-text-stroke-width:0.50px">7</div>
<div class="t r nk" style="left:1292.30px;top:567.00px;font-size:40.20px;transform:scaleX(1.0200);letter-spacing:-0.74px;-webkit-text-stroke-width:0.50px">9</div>
<div class="t r nk" style="left:1292.30px;top:860.00px;font-size:40.20px;transform:scaleX(1.0200);letter-spacing:-0.74px;-webkit-text-stroke-width:0.50px">1</div>
<div class="t r nk" style="left:1292.30px;top:919.00px;font-size:40.20px;transform:scaleX(1.0200);letter-spacing:-0.74px;-webkit-text-stroke-width:0.50px">5</div>
<div class="t r nk" style="left:1292.30px;top:977.00px;font-size:40.20px;transform:scaleX(1.0200);letter-spacing:-0.74px;-webkit-text-stroke-width:0.50px">7</div>
<div class="t r nk" style="left:1292.30px;top:1036.00px;font-size:40.20px;transform:scaleX(1.0200);letter-spacing:-0.74px;-webkit-text-stroke-width:0.50px">9</div>
<div class="t r nk" style="left:1281.27px;top:1095.00px;font-size:40.20px;transform:scaleX(1.0200);letter-spacing:-0.74px;-webkit-text-stroke-width:0.50px">25</div>
<div class="t r nk" style="left:1437.27px;top:390.00px;font-size:40.20px;transform:scaleX(1.0200);letter-spacing:-0.74px;-webkit-text-stroke-width:0.50px">70</div>
<div class="t r nk" style="left:1426.25px;top:449.00px;font-size:40.20px;transform:scaleX(1.0200);letter-spacing:-0.74px;-webkit-text-stroke-width:0.50px">126</div>
<div class="t r nk" style="left:1426.25px;top:508.00px;font-size:40.20px;transform:scaleX(1.0200);letter-spacing:-0.74px;-webkit-text-stroke-width:0.50px">153</div>
<div class="t r nk" style="left:1426.25px;top:567.00px;font-size:40.20px;transform:scaleX(1.0200);letter-spacing:-0.74px;-webkit-text-stroke-width:0.50px">180</div>
<div class="t r nk" style="left:1437.27px;top:860.00px;font-size:40.20px;transform:scaleX(1.0200);letter-spacing:-0.74px;-webkit-text-stroke-width:0.50px">70</div>
<div class="t r nk" style="left:1426.25px;top:919.00px;font-size:40.20px;transform:scaleX(1.0200);letter-spacing:-0.74px;-webkit-text-stroke-width:0.50px">126</div>
<div class="t r nk" style="left:1426.25px;top:977.00px;font-size:40.20px;transform:scaleX(1.0200);letter-spacing:-0.74px;-webkit-text-stroke-width:0.50px">153</div>
<div class="t r nk" style="left:1426.25px;top:1036.00px;font-size:40.20px;transform:scaleX(1.0200);letter-spacing:-0.74px;-webkit-text-stroke-width:0.50px">180</div>
<div class="t r nk" style="left:1426.25px;top:1095.00px;font-size:40.20px;transform:scaleX(1.0200);letter-spacing:-0.74px;-webkit-text-stroke-width:0.50px">346</div>
<div class="t b red nk" style="left:510.51px;top:683.00px;font-size:41.00px;transform:scaleX(0.9900);letter-spacing:-0.53px;-webkit-text-stroke-width:0.40px">623</div>
<div class="t b red nk" style="left:971.01px;top:683.00px;font-size:41.00px;transform:scaleX(0.9900);letter-spacing:-0.53px;-webkit-text-stroke-width:0.40px">606</div>
<div class="t b red nk" style="left:1426.66px;top:683.00px;font-size:41.00px;transform:scaleX(0.9900);letter-spacing:-0.53px;-webkit-text-stroke-width:0.40px">529</div>
<div class="t b blue nk" style="left:541.66px;top:1211.00px;font-size:41.00px;transform:scaleX(0.9900);letter-spacing:-0.53px;-webkit-text-stroke-width:0.40px">884</div>
<div class="t b blue nk" style="left:1000.56px;top:1211.00px;font-size:41.00px;transform:scaleX(0.9900);letter-spacing:-0.53px;-webkit-text-stroke-width:0.40px">796</div>
<div class="t b blue nk" style="left:1454.41px;top:1211.00px;font-size:41.00px;transform:scaleX(0.9900);letter-spacing:-0.53px;-webkit-text-stroke-width:0.40px">875</div>
</body></html>
